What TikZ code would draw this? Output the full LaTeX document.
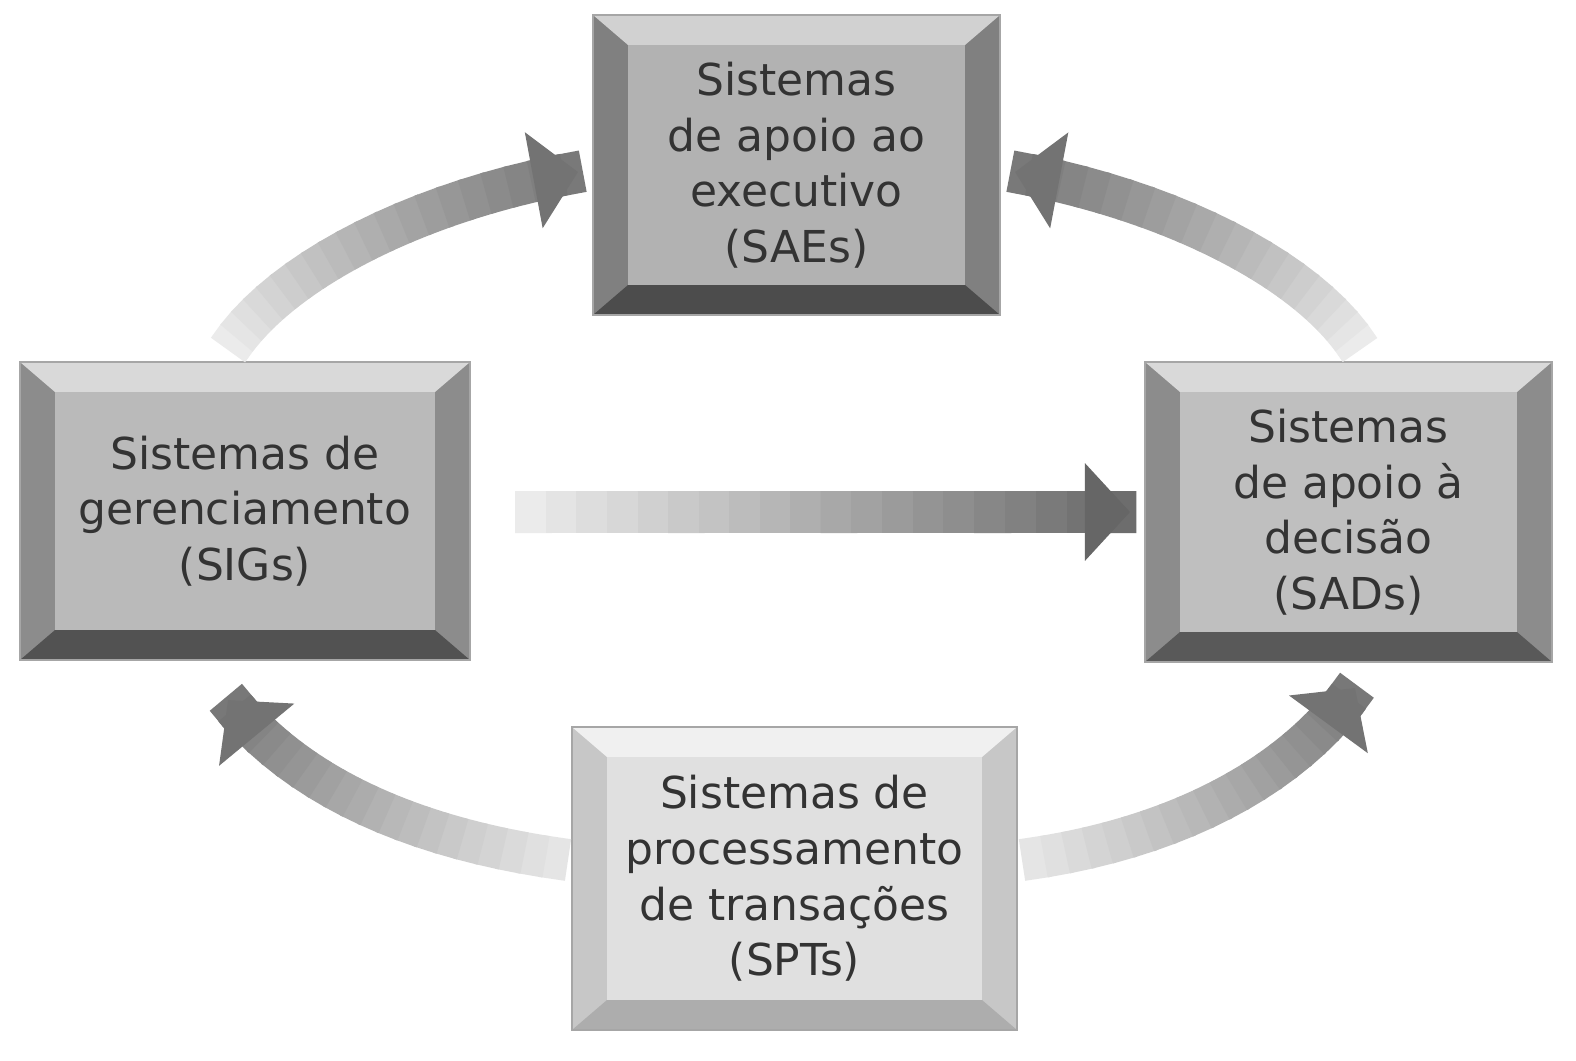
\documentclass[tikz,border=0pt]{standalone}
\usepackage{fontspec}
\setmainfont{DejaVu Sans}
\usetikzlibrary{arrows.meta}

% beveled box: name, x1, y1, x2, y2, face, top, side, bottom, text
\newcommand{\bevelbox}[9]{%
  \fill[#8] (#2,#3) rectangle (#4,#5);
  \fill[#7] (#2,#3) -- (#4,#3) -- (#4-35,#3+30) -- (#2+35,#3+30) -- cycle;
  \fill[#9] (#2,#5) -- (#4,#5) -- (#4-35,#5-30) -- (#2+35,#5-30) -- cycle;
  \fill[#6] (#2+35,#3+30) rectangle (#4-35,#5-30);
  \draw[black!35, line width=0.6pt] (#2,#3) rectangle (#4,#5);
  \node[boxtext] (#1) at ({(#2+#4)/2},{(#3+#5)/2})}

% shaded arrow along a curve: start, control 1, control 2, end, light, dark
\newcommand{\shadearrow}[6]{%
  \colorlet{arrlight}{#5}\colorlet{arrdark}{#6}
  \foreach \i in {0,...,19}{
    \pgfmathsetmacro{\ta}{\i/20}
    \pgfmathsetmacro{\tb}{(\i+1.2)/20}
    \pgfmathtruncatemacro{\mix}{100-\i*5}
    \path (#1) .. controls (#2) and (#3) .. (#4)
      coordinate[pos=\ta] (pa) coordinate[pos=\tb] (pb);
    \draw[line width=0.42cm, arrlight!\mix!arrdark] (pa) -- (pb);
  }
  \path (#1) .. controls (#2) and (#3) .. (#4) coordinate[pos=0.97] (pc);
  \draw[line width=0.42cm, arrdark, -{Triangle[length=0.45cm,width=0.95cm]}] (pc) -- (#4);
}

\begin{document}
\begin{tikzpicture}[x=0.01cm, y=-0.01cm,
  boxtext/.style={align=center, font=\fontsize{12.5}{15.8}\selectfont, text=black!80}]
  \useasboundingbox (0,0) rectangle (1576,1060);
  \fill[white] (0,0) rectangle (1576,1060);

  % Boxes
  \bevelbox{sae}{593}{15}{1000}{315}{black!30}{black!18}{black!50}{black!70}
    {Sistemas\\de apoio ao\\executivo\\(SAEs)};
  \bevelbox{sig}{20}{362}{470}{660}{black!27}{black!15}{black!45}{black!68}
    {Sistemas de\\gerenciamento\\(SIGs)};
  \bevelbox{sad}{1145}{362}{1552}{662}{black!25}{black!15}{black!45}{black!65}
    {Sistemas\\de apoio à\\decisão\\(SADs)};
  \bevelbox{spt}{572}{727}{1017}{1030}{black!12}{black!6}{black!22}{black!32}
    {Sistemas de\\processamento\\de transações\\(SPTs)};

  % Arrows
  \coordinate (a1s) at (228,350);
  \coordinate (a1e) at (578,172);
  \coordinate (a2s) at (1360,350);
  \coordinate (a2e) at (1015,172);
  \coordinate (a3s) at (515,512);
  \coordinate (a3e) at (1130,512);
  \coordinate (a4s) at (568,860);
  \coordinate (a4e) at (228,700);
  \coordinate (a5s) at (1022,860);
  \coordinate (a5e) at (1355,688);

  \shadearrow{a1s}{280,270}{420,200}{a1e}{black!8}{black!55}
  \shadearrow{a2s}{1310,270}{1170,200}{a2e}{black!8}{black!55}
  \shadearrow{a3s}{720,512}{920,512}{a3e}{black!8}{black!60}
  \shadearrow{a4s}{420,840}{300,790}{a4e}{black!10}{black!55}
  \shadearrow{a5s}{1170,840}{1290,780}{a5e}{black!10}{black!55}
\end{tikzpicture}
\end{document}
